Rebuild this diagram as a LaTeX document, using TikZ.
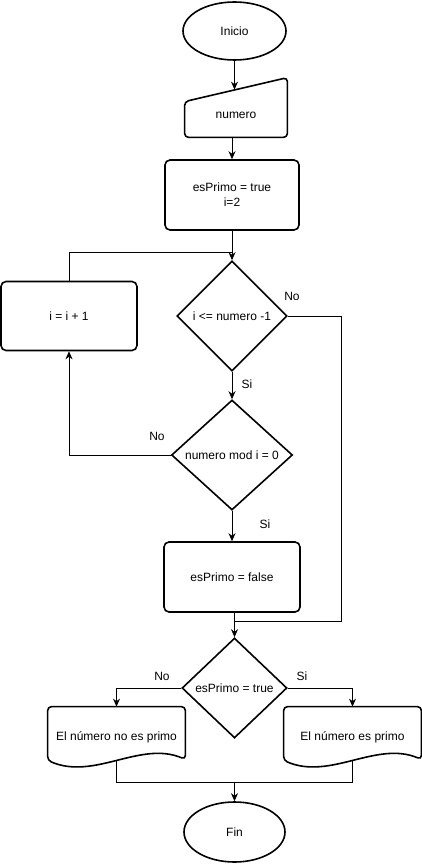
\documentclass[tikz,border=0pt]{standalone}
\usepackage{fontspec}
\setmainfont{Liberation Sans}
\usetikzlibrary{shapes.geometric,arrows.meta}

\begin{document}
\begin{tikzpicture}[x=1pt,y=-1pt,
        font=\fontsize{12}{15}\selectfont,
        line width=0.8pt,
        term/.style={ellipse,draw,line width=1.6pt,minimum width=103pt,minimum height=58pt},
        proc/.style={rectangle,draw,line width=1.6pt,rounded corners=5pt,minimum width=136pt,minimum height=70pt,align=center},
        cond/.style={diamond,draw,line width=1.6pt,inner sep=0pt},
        plain/.style={inner sep=0pt},
        shp/.style={line width=1.6pt,rounded corners=4pt},
        arr/.style={-{Stealth[length=8pt,width=7pt]}}]
        \useasboundingbox (0,0) rectangle (422,864);
        \node[term](inicio) at (234.5,31) {Inicio};
        \node[plain,minimum width=102pt,minimum height=44pt](num) at (236,115) {numero};
        \draw[shp]([yshift=-9pt]num.north west)--([yshift=15pt]num.north east)--(num.south east)--(num.south west)--cycle;
        \node[proc,minimum width=134pt](init) at (232,195) {esPrimo = true\\i=2};
        \node[cond,minimum width=110pt,minimum height=110pt](d1) at (232,316) {i <= numero -1};
        \node[proc,minimum height=69pt](inc) at (69,316) {i = i + 1};
        \node[cond,minimum width=121pt,minimum height=110pt](d2) at (232,455) {numero mod i = 0};
        \node[proc](fals) at (232,577) {esPrimo = false};
        \node[cond,minimum width=105pt,minimum height=100pt](d3) at (234.5,688) {esPrimo = true};
        \node[plain,minimum width=137pt,minimum height=60pt](docno) at (116.5,737) {El número no es primo};
        \draw[shp](docno.north west)--(docno.north east)--([yshift=8pt]docno.south east)..controls +(-45,-19) and +(47,20)..([yshift=7pt]docno.south west)--cycle;
        \node[plain,minimum width=137pt,minimum height=60pt](docsi) at (352.5,737) {El número es primo};
        \draw[shp](docsi.north west)--(docsi.north east)--([yshift=8pt]docsi.south east)..controls +(-45,-19) and +(47,20)..([yshift=7pt]docsi.south west)--cycle;
        \node[term,minimum width=101pt,minimum height=60pt](fin) at (234.5,832) {Fin};

        % labels
        \node(no1) at (292,296) {No};
        \node(si1) at (247,384) {Si};
        \node(no2) at (157,436) {No};
        \node(si2) at (265,524) {Si};
        \node(no3) at (162,676) {No};
        \node(si3) at (302,676) {Si};

        \coordinate(join1) at (232,252);
        \coordinate(join2) at (341,621);
        \coordinate(join3) at (234.5,782);

        \draw[arr](inicio.south)--([yshift=3pt]inicio.south |- num.north);
        \draw[arr](num.south -| init)--(init.north);
        \draw[arr](init.south)--(d1.north);
        \draw(inc.north)|-(join1);
        \draw[arr](d1.south)--(d2.north);
        \draw(d1.east)-|(join2)--(join2 -| d3.north);
        \draw[arr](d2.west)-|(inc.south);
        \draw[arr](d2.south)--(fals.north);
        \draw[arr](fals.south -| d3.north)--(d3.north);
        \draw[arr](d3.west)-|(docno.north);
        \draw[arr](d3.east)-|(docsi.north);
        \draw([yshift=7pt]docno.south)|-(join3);
        \draw([yshift=7pt]docsi.south)|-(join3);
        \draw[arr](join3)--(fin.north);
\end{tikzpicture}
\end{document}
